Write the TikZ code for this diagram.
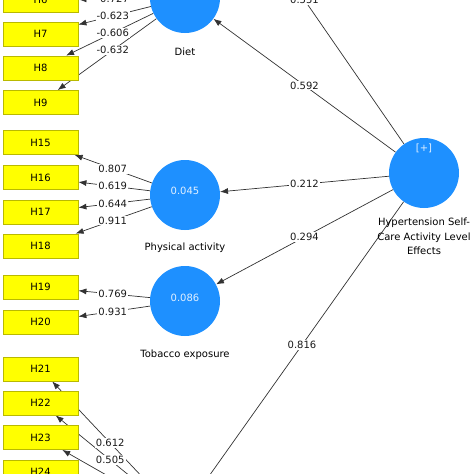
\documentclass[tikz,border=0pt]{standalone}
\usepackage{fontspec}
\setmainfont{DejaVu Sans}
\usetikzlibrary{arrows.meta,backgrounds}
\definecolor{lvblue}{RGB}{30,144,255}
\definecolor{boxyellow}{RGB}{255,255,0}
\definecolor{boxborder}{RGB}{185,185,0}
\definecolor{edgegray}{RGB}{50,50,50}
\definecolor{valtext}{RGB}{225,240,255}
\begin{document}
\begin{tikzpicture}[x=1pt,y=-1pt,
  ind/.style={draw=boxborder, line width=0.8pt, fill=boxyellow, minimum width=75pt, minimum height=24pt, inner sep=0pt, font=\fontsize{10}{12}\selectfont},
  lv/.style={circle, fill=lvblue, minimum size=70pt, inner sep=0pt},
  lvlab/.style={font=\fontsize{10}{14.5}\selectfont, align=center, inner sep=0pt},
  lvval/.style={text=valtext, font=\fontsize{10}{12}\selectfont, inner sep=0pt},
  conn/.style={draw=edgegray, line width=0.7pt, -{Latex[length=8pt,width=6pt]}},
  coef/.style={fill=white, inner sep=1pt, text=black!90, font=\fontsize{10}{12}\selectfont}]
\useasboundingbox (0,0) rectangle (474,474);
\clip (0,0) rectangle (474,474);
% latent variables
\node[lv] (top) at (185,-173) {};
\node[lv] (diet) at (185,-2) {};
\node[lvlab] (dietl) at (185,52) {Diet};
\node[lv] (phys) at (185,195) {};
\node[lvval] (physv) at (185,191) {0.045};
\node[lvlab] (physl) at (185,248) {Physical activity};
\node[lv] (tob) at (185,301) {};
\node[lvval] (tobv) at (185,298) {0.086};
\node[lvlab] (tobl) at (185,355) {Tobacco exposure};
\node[lv] (bot) at (180,517) {};
\node[lv] (hyp) at (424,173) {};
\node[lvval] (hypv) at (424,148) {[+]};
\node[lvlab, anchor=north] (hypl) at (424,218) {Hypertension Self-\\Care Activity Level\\Effects};
% indicators
\foreach \n/\y in {H6/0,H7/34,H8/68,H9/102.5,H15/142.5,H16/177.5,H17/212,H18/246,H19/287,H20/322,H21/369,H22/403,H23/437.5,H24/472}
  \node[ind] (\n) at (40.5,\y) {\n};
% connectors
\begin{pgfonlayer}{background}
\foreach \n in {H6,H7,H8,H9} \draw[conn] (diet) -- (\n);
\foreach \n in {H15,H16,H17,H18} \draw[conn] (phys) -- (\n);
\foreach \n in {H19,H20} \draw[conn] (tob) -- (\n);
\foreach \n in {H21,H22,H23,H24} \draw[conn] (bot) -- (\n);
\foreach \n in {top,diet,phys,tob,bot} \draw[conn] (hyp) -- (\n);
\end{pgfonlayer}
% coefficients
\path (diet.center) -- (H6.center) node[coef, midway] {-0.727};
\path (diet.center) -- (H7.center) node[coef, midway] {-0.623};
\path (diet.center) -- (H8.center) node[coef, midway] {-0.606};
\path (diet.center) -- (H9.center) node[coef, midway] {-0.632};
\path (phys.center) -- (H15.center) node[coef, midway] {0.807};
\path (phys.center) -- (H16.center) node[coef, midway] {0.619};
\path (phys.center) -- (H17.center) node[coef, midway] {0.644};
\path (phys.center) -- (H18.center) node[coef, midway] {0.911};
\path (tob.center) -- (H19.center) node[coef, midway] {0.769};
\path (tob.center) -- (H20.center) node[coef, midway] {0.931};
\path (bot.center) -- (H21.center) node[coef, midway] {0.612};
\path (bot.center) -- (H22.center) node[coef, midway] {0.505};
\path (hyp.center) -- (top.center) node[coef, midway] {0.551};
\path (hyp.center) -- (diet.center) node[coef, midway] {0.592};
\path (hyp.center) -- (phys.center) node[coef, midway] {0.212};
\path (hyp.center) -- (tob.center) node[coef, midway] {0.294};
\path (hyp.center) -- (bot.center) node[coef, midway] {0.816};
\end{tikzpicture}
\end{document}
